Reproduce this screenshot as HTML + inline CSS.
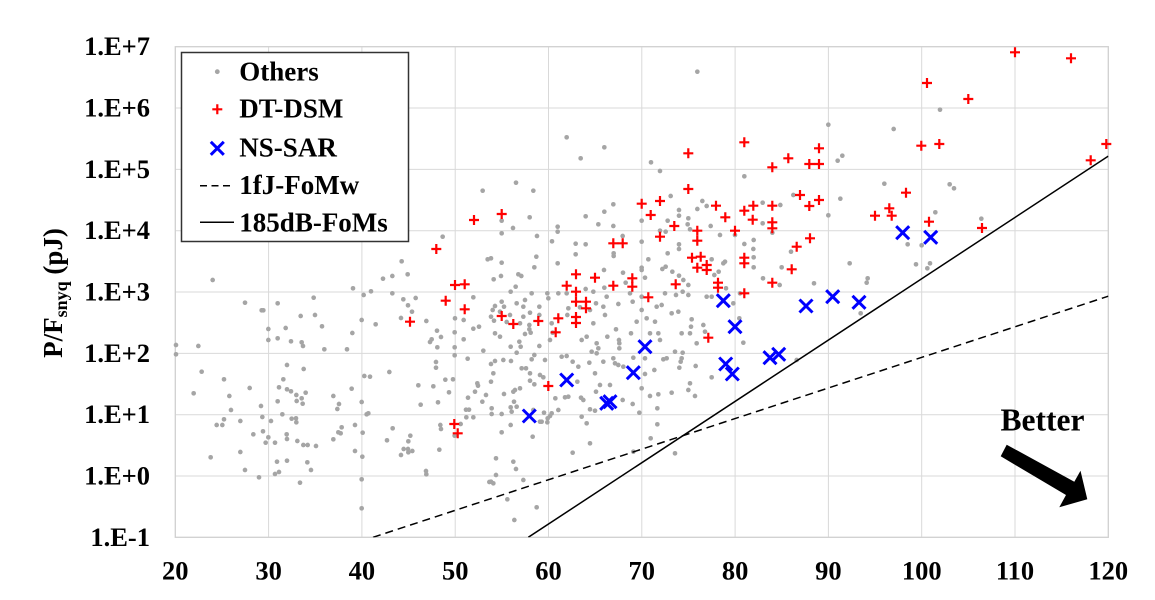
<!DOCTYPE html>
<html><head><meta charset="utf-8"><style>
html,body{margin:0;padding:0;background:#fff;}
svg{display:block;font-family:"Liberation Serif",serif;font-weight:bold;}
</style></head><body>
<svg width="1155" height="600" viewBox="0 0 1155 600" xmlns="http://www.w3.org/2000/svg">
<defs><clipPath id="pc"><rect x="175.3" y="46.7" width="933" height="490.6"/></clipPath></defs>
<rect width="1155" height="600" fill="#fff"/>
<!-- gridlines -->
<g stroke="#d9d9d9" stroke-width="1" fill="none">
<path d="M268.6 46.7V537.3M361.9 46.7V537.3M455.2 46.7V537.3M548.5 46.7V537.3M641.8 46.7V537.3M735.1 46.7V537.3M828.4 46.7V537.3M921.7 46.7V537.3M1015 46.7V537.3"/>
<path d="M175.3 108H1108.3M175.3 169.35H1108.3M175.3 230.7H1108.3M175.3 292H1108.3M175.3 353.35H1108.3M175.3 414.7H1108.3M175.3 476H1108.3"/>
<rect x="175.3" y="46.7" width="933" height="490.6" stroke="#d0d0d0" stroke-width="1.3"/>
</g>
<!-- y tick labels -->
<g font-size="26.5" text-anchor="end" fill="#000">
<text x="150" y="55.2">1.E+7</text>
<text x="150" y="116.5">1.E+6</text>
<text x="150" y="177.8">1.E+5</text>
<text x="150" y="239.2">1.E+4</text>
<text x="150" y="300.5">1.E+3</text>
<text x="150" y="361.8">1.E+2</text>
<text x="150" y="423.2">1.E+1</text>
<text x="150" y="484.5">1.E+0</text>
<text x="150" y="545.8">1.E-1</text>
</g>
<g font-size="26.5" text-anchor="middle" fill="#000">
<text x="175.3" y="579.5">20</text>
<text x="268.6" y="579.5">30</text>
<text x="361.9" y="579.5">40</text>
<text x="455.2" y="579.5">50</text>
<text x="548.5" y="579.5">60</text>
<text x="641.8" y="579.5">70</text>
<text x="735.1" y="579.5">80</text>
<text x="828.4" y="579.5">90</text>
<text x="921.7" y="579.5">100</text>
<text x="1015" y="579.5">110</text>
<text x="1108.3" y="579.5">120</text>
</g>
<!-- y axis title -->
<text transform="translate(62,293) rotate(-90)" text-anchor="middle" font-size="27" fill="#000">P/F<tspan font-size="18" dy="5">snyq</tspan><tspan dy="-5"> (pJ)</tspan></text>

<!-- grey dots -->
<g fill="#a5a5a5">
<g transform="translate(175,230) scale(0.33333)">
<circle cx="803" cy="20" r="7"/><circle cx="680" cy="94" r="7"/><circle cx="624" cy="146" r="7"/><circle cx="652" cy="138" r="7"/><circle cx="698" cy="133" r="7"/><circle cx="113" cy="150" r="7"/><circle cx="534" cy="175" r="7"/><circle cx="588" cy="184" r="7"/><circle cx="566" cy="195" r="7"/><circle cx="652" cy="190" r="7"/><circle cx="685" cy="208" r="7"/><circle cx="722" cy="204" r="7"/><circle cx="699" cy="226" r="7"/><circle cx="711" cy="245" r="7"/><circle cx="210" cy="218" r="7"/><circle cx="308" cy="220" r="7"/><circle cx="260" cy="241" r="7"/><circle cx="265" cy="241" r="7"/><circle cx="416" cy="203" r="7"/><circle cx="377" cy="258" r="7"/><circle cx="420" cy="255" r="7"/><circle cx="280" cy="297" r="7"/><circle cx="332" cy="294" r="7"/><circle cx="441" cy="289" r="7"/><circle cx="560" cy="270" r="7"/><circle cx="602" cy="283" r="7"/><circle cx="532" cy="309" r="7"/><circle cx="678" cy="264" r="7"/><circle cx="754" cy="273" r="7"/><circle cx="840" cy="265" r="7"/><circle cx="866" cy="270" r="7"/><circle cx="895" cy="202" r="7"/><circle cx="938" cy="88" r="7"/><circle cx="280" cy="330" r="7"/><circle cx="308" cy="325" r="7"/><circle cx="348" cy="334" r="7"/><circle cx="380" cy="337" r="7"/><circle cx="384" cy="348" r="7"/><circle cx="448" cy="358" r="7"/><circle cx="516" cy="358" r="7"/><circle cx="3" cy="345" r="7"/><circle cx="3" cy="373" r="7"/><circle cx="70" cy="348" r="7"/><circle cx="786" cy="302" r="7"/><circle cx="798" cy="321" r="7"/><circle cx="770" cy="328" r="7"/><circle cx="765" cy="336" r="7"/><circle cx="787" cy="352" r="7"/><circle cx="839" cy="307" r="7"/><circle cx="839" cy="352" r="7"/><circle cx="866" cy="328" r="7"/><circle cx="839" cy="376" r="7"/><circle cx="895" cy="296" r="7"/><circle cx="912" cy="290" r="7"/><circle cx="925" cy="362" r="7"/><circle cx="878" cy="386" r="7"/><circle cx="783" cy="396" r="7"/><circle cx="783" cy="413" r="7"/><circle cx="80" cy="425" r="7"/><circle cx="147" cy="448" r="7"/><circle cx="224" cy="474" r="7"/><circle cx="336" cy="405" r="7"/><circle cx="386" cy="417" r="7"/><circle cx="325" cy="448" r="7"/><circle cx="312" cy="472" r="7"/><circle cx="336" cy="478" r="7"/><circle cx="348" cy="484" r="7"/><circle cx="364" cy="495" r="7"/><circle cx="392" cy="488" r="7"/><circle cx="380" cy="505" r="7"/><circle cx="365" cy="513" r="7"/><circle cx="383" cy="521" r="7"/><circle cx="56" cy="490" r="7"/><circle cx="163" cy="498" r="7"/><circle cx="168" cy="540" r="7"/><circle cx="258" cy="528" r="7"/><circle cx="308" cy="514" r="7"/><circle cx="475" cy="498" r="7"/><circle cx="492" cy="522" r="7"/><circle cx="487" cy="537" r="7"/><circle cx="530" cy="476" r="7"/><circle cx="560" cy="516" r="7"/><circle cx="568" cy="438" r="7"/><circle cx="585" cy="440" r="7"/><circle cx="643" cy="426" r="7"/><circle cx="575" cy="553" r="7"/><circle cx="580" cy="550" r="7"/><circle cx="730" cy="466" r="7"/><circle cx="775" cy="469" r="7"/><circle cx="811" cy="449" r="7"/><circle cx="834" cy="448" r="7"/><circle cx="822" cy="487" r="7"/><circle cx="789" cy="517" r="7"/><circle cx="737" cy="524" r="7"/><circle cx="879" cy="503" r="7"/><circle cx="873" cy="539" r="7"/><circle cx="882" cy="539" r="7"/><circle cx="907" cy="460" r="7"/><circle cx="909" cy="467" r="7"/><circle cx="900" cy="485" r="7"/><circle cx="933" cy="495" r="7"/><circle cx="922" cy="515" r="7"/><circle cx="874" cy="562" r="7"/><circle cx="895" cy="562" r="7"/><circle cx="147" cy="568" r="7"/><circle cx="125" cy="585" r="7"/><circle cx="142" cy="585" r="7"/><circle cx="196" cy="573" r="7"/><circle cx="262" cy="561" r="7"/><circle cx="288" cy="573" r="7"/><circle cx="322" cy="553" r="7"/><circle cx="350" cy="566" r="7"/><circle cx="363" cy="565" r="7"/><circle cx="364" cy="577" r="7"/><circle cx="235" cy="613" r="7"/><circle cx="264" cy="604" r="7"/><circle cx="280" cy="622" r="7"/><circle cx="272" cy="638" r="7"/><circle cx="300" cy="638" r="7"/><circle cx="335" cy="613" r="7"/><circle cx="336" cy="627" r="7"/><circle cx="367" cy="633" r="7"/><circle cx="385" cy="645" r="7"/><circle cx="398" cy="645" r="7"/><circle cx="423" cy="648" r="7"/><circle cx="475" cy="628" r="7"/><circle cx="490" cy="607" r="7"/><circle cx="500" cy="592" r="7"/><circle cx="497" cy="610" r="7"/><circle cx="540" cy="585" r="7"/><circle cx="563" cy="608" r="7"/><circle cx="653" cy="595" r="7"/><circle cx="636" cy="631" r="7"/><circle cx="706" cy="617" r="7"/><circle cx="700" cy="634" r="7"/><circle cx="686" cy="657" r="7"/><circle cx="699" cy="657" r="7"/><circle cx="712" cy="663" r="7"/><circle cx="678" cy="675" r="7"/><circle cx="700" cy="667" r="7"/><circle cx="796" cy="585" r="7"/><circle cx="798" cy="597" r="7"/><circle cx="793" cy="659" r="7"/><circle cx="839" cy="617" r="7"/><circle cx="857" cy="582" r="7"/><circle cx="107" cy="682" r="7"/><circle cx="196" cy="666" r="7"/><circle cx="210" cy="720" r="7"/><circle cx="252" cy="742" r="7"/><circle cx="306" cy="695" r="7"/><circle cx="336" cy="692" r="7"/><circle cx="300" cy="732" r="7"/><circle cx="312" cy="726" r="7"/><circle cx="375" cy="758" r="7"/><circle cx="397" cy="697" r="7"/><circle cx="408" cy="720" r="7"/><circle cx="540" cy="663" r="7"/><circle cx="562" cy="680" r="7"/><circle cx="560" cy="748" r="7"/><circle cx="560" cy="835" r="7"/><circle cx="753" cy="723" r="7"/><circle cx="754" cy="733" r="7"/><circle cx="943" cy="756" r="7"/>
</g>
<g transform="translate(360,150) scale(0.33333)"><circle cx="368" cy="122" r="7"/></g>
<g transform="translate(490,290) scale(0.33333)">
<circle cx="15" cy="48" r="7"/><circle cx="42" cy="50" r="7"/><circle cx="8" cy="60" r="7"/><circle cx="30" cy="65" r="7"/><circle cx="60" cy="75" r="7"/><circle cx="3" cy="80" r="7"/><circle cx="12" cy="92" r="7"/><circle cx="50" cy="96" r="7"/><circle cx="100" cy="50" r="7"/><circle cx="120" cy="68" r="7"/><circle cx="148" cy="50" r="7"/><circle cx="148" cy="75" r="7"/><circle cx="100" cy="80" r="7"/><circle cx="90" cy="100" r="7"/><circle cx="118" cy="105" r="7"/><circle cx="118" cy="118" r="7"/><circle cx="122" cy="128" r="7"/><circle cx="105" cy="132" r="7"/><circle cx="88" cy="155" r="7"/><circle cx="92" cy="170" r="7"/><circle cx="62" cy="170" r="7"/><circle cx="30" cy="140" r="7"/><circle cx="15" cy="130" r="7"/><circle cx="185" cy="100" r="7"/><circle cx="188" cy="128" r="7"/><circle cx="180" cy="150" r="7"/><circle cx="235" cy="55" r="7"/><circle cx="270" cy="52" r="7"/><circle cx="318" cy="40" r="7"/><circle cx="340" cy="50" r="7"/><circle cx="345" cy="75" r="7"/><circle cx="300" cy="60" r="7"/><circle cx="310" cy="100" r="7"/><circle cx="232" cy="75" r="7"/><circle cx="275" cy="150" r="7"/><circle cx="290" cy="140" r="7"/><circle cx="320" cy="160" r="7"/><circle cx="305" cy="185" r="7"/><circle cx="325" cy="175" r="7"/><circle cx="350" cy="20" r="7"/><circle cx="385" cy="42" r="7"/><circle cx="428" cy="35" r="7"/><circle cx="455" cy="60" r="7"/><circle cx="470" cy="85" r="7"/><circle cx="500" cy="50" r="7"/><circle cx="515" cy="45" r="7"/><circle cx="525" cy="10" r="7"/><circle cx="455" cy="20" r="7"/><circle cx="378" cy="118" r="7"/><circle cx="387" cy="150" r="7"/><circle cx="388" cy="160" r="7"/><circle cx="388" cy="175" r="7"/><circle cx="352" cy="140" r="7"/><circle cx="423" cy="130" r="7"/><circle cx="440" cy="95" r="7"/><circle cx="480" cy="130" r="7"/><circle cx="505" cy="130" r="7"/><circle cx="510" cy="150" r="7"/><circle cx="495" cy="95" r="7"/><circle cx="545" cy="70" r="7"/><circle cx="565" cy="65" r="7"/><circle cx="595" cy="15" r="7"/><circle cx="558" cy="15" r="7"/><circle cx="575" cy="130" r="7"/><circle cx="600" cy="130" r="7"/><circle cx="605" cy="88" r="7"/><circle cx="603" cy="110" r="7"/><circle cx="640" cy="105" r="7"/><circle cx="645" cy="125" r="7"/><circle cx="620" cy="160" r="7"/><circle cx="750" cy="10" r="7"/><circle cx="748" cy="85" r="7"/><circle cx="760" cy="158" r="7"/><circle cx="730" cy="40" r="7"/><circle cx="665" cy="20" r="7"/><circle cx="650" cy="20" r="7"/><circle cx="105" cy="30" r="7"/><circle cx="80" cy="40" r="7"/><circle cx="35" cy="35" r="7"/><circle cx="175" cy="25" r="7"/>
<circle cx="15" cy="213" r="7"/><circle cx="40" cy="210" r="7"/><circle cx="80" cy="188" r="7"/><circle cx="63" cy="213" r="7"/><circle cx="95" cy="235" r="7"/><circle cx="108" cy="235" r="7"/><circle cx="125" cy="208" r="7"/><circle cx="133" cy="195" r="7"/><circle cx="148" cy="168" r="7"/><circle cx="165" cy="210" r="7"/><circle cx="215" cy="200" r="7"/><circle cx="230" cy="198" r="7"/><circle cx="248" cy="215" r="7"/><circle cx="265" cy="230" r="7"/><circle cx="298" cy="218" r="7"/><circle cx="320" cy="190" r="7"/><circle cx="315" cy="250" r="7"/><circle cx="262" cy="275" r="7"/><circle cx="340" cy="215" r="7"/><circle cx="370" cy="205" r="7"/><circle cx="375" cy="220" r="7"/><circle cx="385" cy="225" r="7"/><circle cx="400" cy="230" r="7"/><circle cx="430" cy="203" r="7"/><circle cx="465" cy="205" r="7"/><circle cx="493" cy="240" r="7"/><circle cx="465" cy="252" r="7"/><circle cx="520" cy="208" r="7"/><circle cx="530" cy="205" r="7"/><circle cx="555" cy="185" r="7"/><circle cx="578" cy="188" r="7"/><circle cx="575" cy="205" r="7"/><circle cx="572" cy="215" r="7"/><circle cx="568" cy="233" r="7"/><circle cx="617" cy="228" r="7"/><circle cx="665" cy="262" r="7"/><circle cx="600" cy="280" r="7"/><circle cx="595" cy="300" r="7"/><circle cx="615" cy="318" r="7"/><circle cx="545" cy="308" r="7"/><circle cx="505" cy="313" r="7"/><circle cx="480" cy="318" r="7"/><circle cx="455" cy="295" r="7"/><circle cx="398" cy="330" r="7"/><circle cx="360" cy="285" r="7"/><circle cx="330" cy="285" r="7"/><circle cx="318" cy="305" r="7"/><circle cx="280" cy="330" r="7"/><circle cx="300" cy="358" r="7"/><circle cx="315" cy="362" r="7"/><circle cx="273" cy="323" r="7"/><circle cx="225" cy="322" r="7"/><circle cx="235" cy="320" r="7"/><circle cx="196" cy="325" r="7"/><circle cx="205" cy="360" r="7"/><circle cx="185" cy="370" r="7"/><circle cx="180" cy="378" r="7"/><circle cx="173" cy="385" r="7"/><circle cx="155" cy="395" r="7"/><circle cx="172" cy="397" r="7"/><circle cx="162" cy="368" r="7"/><circle cx="130" cy="360" r="7"/><circle cx="120" cy="250" r="7"/><circle cx="120" cy="272" r="7"/><circle cx="133" cy="283" r="7"/><circle cx="150" cy="255" r="7"/><circle cx="160" cy="262" r="7"/><circle cx="3" cy="275" r="7"/><circle cx="10" cy="250" r="7"/><circle cx="3" cy="222" r="7"/><circle cx="42" cy="312" r="7"/><circle cx="75" cy="300" r="7"/><circle cx="70" cy="305" r="7"/><circle cx="90" cy="295" r="7"/><circle cx="72" cy="335" r="7"/><circle cx="80" cy="350" r="7"/><circle cx="65" cy="365" r="7"/><circle cx="62" cy="352" r="7"/><circle cx="35" cy="372" r="7"/><circle cx="5" cy="355" r="7"/><circle cx="5" cy="372" r="7"/><circle cx="62" cy="405" r="7"/><circle cx="35" cy="427" r="7"/><circle cx="128" cy="440" r="7"/><circle cx="150" cy="395" r="7"/><circle cx="275" cy="380" r="7"/><circle cx="290" cy="400" r="7"/><circle cx="300" cy="460" r="7"/><circle cx="248" cy="488" r="7"/><circle cx="428" cy="342" r="7"/><circle cx="448" cy="368" r="7"/><circle cx="502" cy="355" r="7"/><circle cx="502" cy="403" r="7"/><circle cx="482" cy="445" r="7"/><circle cx="430" cy="485" r="7"/><circle cx="555" cy="490" r="7"/><circle cx="18" cy="505" r="7"/><circle cx="18" cy="555" r="7"/><circle cx="3" cy="575" r="7"/><circle cx="10" cy="580" r="7"/><circle cx="70" cy="515" r="7"/><circle cx="78" cy="537" r="7"/><circle cx="100" cy="570" r="7"/><circle cx="52" cy="628" r="7"/><circle cx="140" cy="652" r="7"/><circle cx="73" cy="690" r="7"/><circle cx="920" cy="210" r="7"/>
</g>
<g transform="translate(490,45) scale(0.33333)">
<circle cx="622" cy="80" r="7"/><circle cx="230" cy="277" r="7"/><circle cx="343" cy="307" r="7"/><circle cx="272" cy="340" r="7"/><circle cx="483" cy="352" r="7"/><circle cx="510" cy="378" r="7"/><circle cx="763" cy="394" r="7"/><circle cx="78" cy="413" r="7"/><circle cx="130" cy="437" r="7"/><circle cx="542" cy="453" r="7"/><circle cx="637" cy="468" r="7"/><circle cx="650" cy="483" r="7"/><circle cx="622" cy="492" r="7"/><circle cx="567" cy="495" r="7"/><circle cx="567" cy="512" r="7"/><circle cx="595" cy="520" r="7"/><circle cx="600" cy="553" r="7"/><circle cx="533" cy="527" r="7"/><circle cx="510" cy="557" r="7"/><circle cx="527" cy="560" r="7"/><circle cx="455" cy="527" r="7"/><circle cx="370" cy="478" r="7"/><circle cx="343" cy="500" r="7"/><circle cx="287" cy="514" r="7"/><circle cx="325" cy="538" r="7"/><circle cx="370" cy="543" r="7"/><circle cx="203" cy="545" r="7"/><circle cx="203" cy="560" r="7"/><circle cx="119" cy="517" r="7"/><circle cx="35" cy="527" r="7"/><circle cx="35" cy="565" r="7"/><circle cx="69" cy="549" r="7"/><circle cx="141" cy="573" r="7"/><circle cx="186" cy="589" r="7"/><circle cx="257" cy="596" r="7"/><circle cx="287" cy="598" r="7"/><circle cx="257" cy="628" r="7"/><circle cx="203" cy="655" r="7"/><circle cx="139" cy="635" r="7"/><circle cx="133" cy="667" r="7"/><circle cx="35" cy="653" r="7"/><circle cx="33" cy="693" r="7"/><circle cx="11" cy="703" r="7"/><circle cx="85" cy="688" r="7"/><circle cx="94" cy="693" r="7"/><circle cx="77" cy="725" r="7"/><circle cx="62" cy="740" r="7"/><circle cx="125" cy="745" r="7"/><circle cx="172" cy="745" r="7"/><circle cx="205" cy="745" r="7"/><circle cx="230" cy="745" r="7"/><circle cx="287" cy="732" r="7"/><circle cx="310" cy="740" r="7"/><circle cx="342" cy="675" r="7"/><circle cx="343" cy="728" r="7"/><circle cx="371" cy="625" r="7"/><circle cx="371" cy="633" r="7"/><circle cx="398" cy="573" r="7"/><circle cx="399" cy="683" r="7"/><circle cx="407" cy="713" r="7"/><circle cx="420" cy="745" r="7"/><circle cx="455" cy="590" r="7"/><circle cx="475" cy="643" r="7"/><circle cx="455" cy="668" r="7"/><circle cx="455" cy="675" r="7"/><circle cx="465" cy="698" r="7"/><circle cx="517" cy="672" r="7"/><circle cx="527" cy="665" r="7"/><circle cx="547" cy="680" r="7"/><circle cx="533" cy="625" r="7"/><circle cx="567" cy="598" r="7"/><circle cx="567" cy="612" r="7"/><circle cx="567" cy="692" r="7"/><circle cx="580" cy="705" r="7"/><circle cx="595" cy="720" r="7"/><circle cx="578" cy="740" r="7"/><circle cx="593" cy="538" r="7"/><circle cx="662" cy="543" r="7"/><circle cx="690" cy="570" r="7"/><circle cx="665" cy="643" r="7"/><circle cx="705" cy="650" r="7"/><circle cx="700" cy="655" r="7"/><circle cx="686" cy="680" r="7"/><circle cx="673" cy="690" r="7"/><circle cx="708" cy="730" r="7"/><circle cx="735" cy="570" r="7"/><circle cx="763" cy="597" r="7"/><circle cx="791" cy="585" r="7"/><circle cx="790" cy="612" r="7"/><circle cx="791" cy="637" r="7"/><circle cx="791" cy="667" r="7"/><circle cx="818" cy="473" r="7"/><circle cx="871" cy="480" r="7"/><circle cx="818" cy="535" r="7"/><circle cx="847" cy="563" r="7"/><circle cx="819" cy="700" r="7"/><circle cx="869" cy="720" r="7"/><circle cx="875" cy="667" r="7"/><circle cx="903" cy="620" r="7"/><circle cx="910" cy="450" r="7"/><circle cx="3" cy="640" r="7"/>
</g>
<g transform="translate(800,45) scale(0.33333)">
<circle cx="420" cy="194" r="7"/><circle cx="85" cy="239" r="7"/><circle cx="281" cy="252" r="7"/><circle cx="113" cy="347" r="7"/><circle cx="127" cy="332" r="7"/><circle cx="253" cy="416" r="7"/><circle cx="449" cy="418" r="7"/><circle cx="462" cy="430" r="7"/><circle cx="121" cy="461" r="7"/><circle cx="85" cy="511" r="7"/><circle cx="406" cy="502" r="7"/><circle cx="544" cy="521" r="7"/><circle cx="323" cy="598" r="7"/><circle cx="365" cy="601" r="7"/><circle cx="149" cy="655" r="7"/><circle cx="348" cy="658" r="7"/><circle cx="390" cy="655" r="7"/><circle cx="382" cy="670" r="7"/><circle cx="203" cy="700" r="7"/><circle cx="200" cy="713" r="7"/><circle cx="42" cy="715" r="7"/>
</g>
<g transform="translate(780,150) scale(0.33333)"><circle cx="242" cy="490" r="7"/></g>
</g>

<!-- red crosses DT-DSM -->
<g stroke="#ff0000" stroke-width="2.2" fill="none">
<path transform="translate(1015,52.3)" d="M-5 0h10M0-5v10"/><path transform="translate(1071,58.3)" d="M-5 0h10M0-5v10"/><path transform="translate(927,83)" d="M-5 0h10M0-5v10"/><path transform="translate(968.3,99)" d="M-5 0h10M0-5v10"/><path transform="translate(921.3,145.7)" d="M-5 0h10M0-5v10"/><path transform="translate(939.3,144)" d="M-5 0h10M0-5v10"/><path transform="translate(1106.3,144)" d="M-5 0h10M0-5v10"/><path transform="translate(1090.7,160.3)" d="M-5 0h10M0-5v10"/><path transform="translate(819,148.3)" d="M-5 0h10M0-5v10"/><path transform="translate(809.3,164)" d="M-5 0h10M0-5v10"/><path transform="translate(819,164)" d="M-5 0h10M0-5v10"/><path transform="translate(800,195)" d="M-5 0h10M0-5v10"/><path transform="translate(809.3,206)" d="M-5 0h10M0-5v10"/><path transform="translate(819,200)" d="M-5 0h10M0-5v10"/><path transform="translate(906,192.7)" d="M-5 0h10M0-5v10"/><path transform="translate(889.3,208.3)" d="M-5 0h10M0-5v10"/><path transform="translate(891.7,215.7)" d="M-5 0h10M0-5v10"/><path transform="translate(875,215.7)" d="M-5 0h10M0-5v10"/><path transform="translate(929,221.7)" d="M-5 0h10M0-5v10"/><path transform="translate(982,228)" d="M-5 0h10M0-5v10"/><path transform="translate(810,238.3)" d="M-5 0h10M0-5v10"/><path transform="translate(796.7,246.7)" d="M-5 0h10M0-5v10"/>
<path transform="translate(501.7,214)" d="M-5 0h10M0-5v10"/><path transform="translate(641.7,203.7)" d="M-5 0h10M0-5v10"/><path transform="translate(660,201)" d="M-5 0h10M0-5v10"/><path transform="translate(650.7,215)" d="M-5 0h10M0-5v10"/><path transform="translate(688.3,153.3)" d="M-5 0h10M0-5v10"/><path transform="translate(688.3,189)" d="M-5 0h10M0-5v10"/><path transform="translate(674.3,226)" d="M-5 0h10M0-5v10"/><path transform="translate(660,236.7)" d="M-5 0h10M0-5v10"/><path transform="translate(697.3,230.7)" d="M-5 0h10M0-5v10"/><path transform="translate(697.3,240.7)" d="M-5 0h10M0-5v10"/><path transform="translate(716,205.7)" d="M-5 0h10M0-5v10"/><path transform="translate(725.3,217.3)" d="M-5 0h10M0-5v10"/><path transform="translate(735,230.7)" d="M-5 0h10M0-5v10"/><path transform="translate(744.3,142.3)" d="M-5 0h10M0-5v10"/><path transform="translate(744.3,210.7)" d="M-5 0h10M0-5v10"/><path transform="translate(753.3,205.7)" d="M-5 0h10M0-5v10"/><path transform="translate(752.7,219.7)" d="M-5 0h10M0-5v10"/><path transform="translate(772.3,167.3)" d="M-5 0h10M0-5v10"/><path transform="translate(788.3,158.3)" d="M-5 0h10M0-5v10"/><path transform="translate(772.3,205.7)" d="M-5 0h10M0-5v10"/><path transform="translate(772.3,222.3)" d="M-5 0h10M0-5v10"/><path transform="translate(772.3,228.3)" d="M-5 0h10M0-5v10"/><path transform="translate(791.7,269.3)" d="M-5 0h10M0-5v10"/><path transform="translate(772.3,282.7)" d="M-5 0h10M0-5v10"/><path transform="translate(744.3,257.7)" d="M-5 0h10M0-5v10"/><path transform="translate(744.3,263.3)" d="M-5 0h10M0-5v10"/><path transform="translate(718,282.7)" d="M-5 0h10M0-5v10"/><path transform="translate(718,287.7)" d="M-5 0h10M0-5v10"/><path transform="translate(692,257.7)" d="M-5 0h10M0-5v10"/><path transform="translate(700.7,256.7)" d="M-5 0h10M0-5v10"/><path transform="translate(697.3,267.7)" d="M-5 0h10M0-5v10"/><path transform="translate(706.7,265)" d="M-5 0h10M0-5v10"/><path transform="translate(706.7,270)" d="M-5 0h10M0-5v10"/><path transform="translate(675.7,284.3)" d="M-5 0h10M0-5v10"/><path transform="translate(613.3,243.3)" d="M-5 0h10M0-5v10"/><path transform="translate(622.7,243.3)" d="M-5 0h10M0-5v10"/><path transform="translate(576,274.3)" d="M-5 0h10M0-5v10"/><path transform="translate(595,277.7)" d="M-5 0h10M0-5v10"/><path transform="translate(566.7,285.7)" d="M-5 0h10M0-5v10"/><path transform="translate(576,291.7)" d="M-5 0h10M0-5v10"/><path transform="translate(613.3,285.7)" d="M-5 0h10M0-5v10"/><path transform="translate(632.3,278.3)" d="M-5 0h10M0-5v10"/><path transform="translate(632.3,286.7)" d="M-5 0h10M0-5v10"/><path transform="translate(744.3,293.3)" d="M-5 0h10M0-5v10"/>
<path transform="translate(474,220)" d="M-5 0h10M0-5v10"/><path transform="translate(436.3,249)" d="M-5 0h10M0-5v10"/><path transform="translate(455,285)" d="M-5 0h10M0-5v10"/><path transform="translate(464.7,284.3)" d="M-5 0h10M0-5v10"/><path transform="translate(445.7,300.7)" d="M-5 0h10M0-5v10"/><path transform="translate(464.7,309.3)" d="M-5 0h10M0-5v10"/><path transform="translate(410,321.7)" d="M-5 0h10M0-5v10"/><path transform="translate(454.3,424)" d="M-5 0h10M0-5v10"/><path transform="translate(457.7,433.3)" d="M-5 0h10M0-5v10"/>
<path transform="translate(576,301.7)" d="M-5 0h10M0-5v10"/><path transform="translate(586,301.7)" d="M-5 0h10M0-5v10"/><path transform="translate(586,308.3)" d="M-5 0h10M0-5v10"/><path transform="translate(501.7,316)" d="M-5 0h10M0-5v10"/><path transform="translate(513.3,324)" d="M-5 0h10M0-5v10"/><path transform="translate(538.3,321)" d="M-5 0h10M0-5v10"/><path transform="translate(558.3,318.3)" d="M-5 0h10M0-5v10"/><path transform="translate(555.7,332.3)" d="M-5 0h10M0-5v10"/><path transform="translate(576,317)" d="M-5 0h10M0-5v10"/><path transform="translate(576,323)" d="M-5 0h10M0-5v10"/><path transform="translate(648.3,297.3)" d="M-5 0h10M0-5v10"/><path transform="translate(708.3,337.7)" d="M-5 0h10M0-5v10"/><path transform="translate(548.3,386)" d="M-5 0h10M0-5v10"/>
</g>

<!-- blue X NS-SAR -->
<g stroke="#0000ff" stroke-width="3" fill="none">
<path transform="translate(529.3,416)" d="M-6.5-6.5l13 13M6.5-6.5l-13 13"/><path transform="translate(566.7,380)" d="M-6.5-6.5l13 13M6.5-6.5l-13 13"/><path transform="translate(606.7,403.3)" d="M-6.5-6.5l13 13M6.5-6.5l-13 13"/><path transform="translate(610,401.7)" d="M-6.5-6.5l13 13M6.5-6.5l-13 13"/><path transform="translate(633.3,372.7)" d="M-6.5-6.5l13 13M6.5-6.5l-13 13"/><path transform="translate(645,346.7)" d="M-6.5-6.5l13 13M6.5-6.5l-13 13"/><path transform="translate(723.3,300.7)" d="M-6.5-6.5l13 13M6.5-6.5l-13 13"/><path transform="translate(735,326.7)" d="M-6.5-6.5l13 13M6.5-6.5l-13 13"/><path transform="translate(725.7,364)" d="M-6.5-6.5l13 13M6.5-6.5l-13 13"/><path transform="translate(732.3,374)" d="M-6.5-6.5l13 13M6.5-6.5l-13 13"/><path transform="translate(770,357.7)" d="M-6.5-6.5l13 13M6.5-6.5l-13 13"/><path transform="translate(778.7,354.3)" d="M-6.5-6.5l13 13M6.5-6.5l-13 13"/><path transform="translate(806,306)" d="M-6.5-6.5l13 13M6.5-6.5l-13 13"/><path transform="translate(832.7,296.7)" d="M-6.5-6.5l13 13M6.5-6.5l-13 13"/><path transform="translate(859,302.3)" d="M-6.5-6.5l13 13M6.5-6.5l-13 13"/><path transform="translate(902.7,232.7)" d="M-6.5-6.5l13 13M6.5-6.5l-13 13"/><path transform="translate(930.7,237.3)" d="M-6.5-6.5l13 13M6.5-6.5l-13 13"/>
</g>

<!-- FoM lines -->
<g clip-path="url(#pc)" fill="none" stroke="#000" stroke-width="1.5">
<line x1="528.3" y1="537.3" x2="1108.3" y2="156.1"/>
<line x1="373" y1="537.3" x2="1108.3" y2="296.2" stroke-dasharray="8,5"/>
</g>

<!-- legend -->
<rect x="181.5" y="52.5" width="227" height="189" fill="#fff" stroke="#333" stroke-width="1.5"/>
<circle cx="217.3" cy="71.7" r="2.4" fill="#a5a5a5"/>
<path transform="translate(217.3,109.3)" d="M-5 0h10M0-5v10" stroke="#ff0000" stroke-width="2.2" fill="none"/>
<path transform="translate(217.3,148.3)" d="M-6.5-6.5l13 13M6.5-6.5l-13 13" stroke="#0000ff" stroke-width="3" fill="none"/>
<line x1="200" y1="185.7" x2="234" y2="185.7" stroke="#000" stroke-width="1.5" stroke-dasharray="7,4.5"/>
<line x1="200" y1="222.3" x2="234" y2="222.3" stroke="#000" stroke-width="1.5"/>
<g font-size="27" fill="#000">
<text x="239.3" y="80.5">Others</text>
<text x="239.3" y="117.7">DT-DSM</text>
<text x="239.3" y="156.5">NS-SAR</text>
<text x="239.3" y="194">1fJ-FoMw</text>
<text x="239.3" y="231.5">185dB-FoMs</text>
</g>

<!-- Better arrow -->
<text x="1000.5" y="430.7" font-size="31.5" fill="#000">Better</text>
<polygon points="1006.7,444.7 1074.3,481.7 1080.5,470.7 1087.3,499.3 1059.3,507.3 1066,495 1000.7,456.3" fill="#000"/>
</svg>
</body></html>
